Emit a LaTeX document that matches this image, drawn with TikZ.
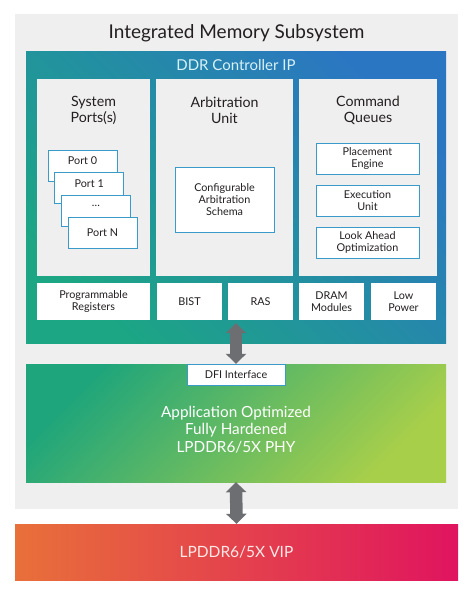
\documentclass[tikz,border=0pt]{standalone}
\usepackage{fontspec}
\setmainfont{Lato}
\usetikzlibrary{arrows.meta,positioning}
\definecolor{boxgray}{HTML}{EFEFEF}
\definecolor{txtdark}{HTML}{231F20}
\definecolor{ddrblue}{HTML}{2B76C2}
\definecolor{ddrgreen}{HTML}{1CA684}
\definecolor{ddrtext}{HTML}{D8F1F7}
\definecolor{edgeblue}{HTML}{3A9BC8}
\definecolor{phygreen}{HTML}{1FA57B}
\definecolor{phylime}{HTML}{A8CF4A}
\definecolor{viporange}{HTML}{E8703A}
\definecolor{vipred}{HTML}{E2283C}
\definecolor{vipmagenta}{HTML}{E0145F}
\definecolor{viptext}{HTML}{FCE9E6}
\definecolor{arrowgray}{HTML}{6D6E71}

\begin{document}
\begin{tikzpicture}[x=1pt,y=-1pt,
        panel/.style={fill=boxgray,inner sep=0pt,minimum height=197pt},
        whitebox/.style={fill=white,inner sep=0pt,minimum height=37pt,align=center,
          text=txtdark,font=\fontsize{10.8}{12.3}\selectfont},
        subbox/.style={fill=white,draw=edgeblue,line width=1pt,inner sep=0pt,align=center,
          text=txtdark,font=\fontsize{10.8}{12.3}\selectfont},
        portlabel/.style={text=txtdark,font=\fontsize{10.8}{12.3}\selectfont},
        ptitle/.style={align=center,text=txtdark,font=\fontsize{14.2}{16}\selectfont},
        bigarrow/.style={draw=arrowgray,line width=12.5pt,
          {Triangle[width=20pt,length=10pt]}-{Triangle[width=20pt,length=10pt]}}]
      \useasboundingbox (0,0) rectangle (474,592);

      % subsystem frame
      \node [fill=boxgray,minimum width=443pt,minimum height=495pt,inner sep=0pt] (ims) at (236.5,261.5) {};
      \node [text=txtdark,font=\fontsize{19}{21}\selectfont] (imstitle) at (236.5,33) {Integrated Memory Subsystem};

      % controller
      \node [top color=ddrblue,bottom color=ddrgreen,shading angle=-45,
             minimum width=420pt,minimum height=292pt,inner sep=0pt] (ddr) at (236,197) {};
      \node [text=ddrtext,font=\fontsize{15}{17}\selectfont] (ddrtitle) at (236,65) {DDR Controller IP};

      \node [panel,minimum width=113pt] (sysp) at (93.5,177.5)  {};
      \node [panel,minimum width=137pt] (arb)  at (224.5,177.5) {};
      \node [panel,minimum width=138pt] (cmdq) at (368,177.5)   {};
      \node [ptitle] (syspt) at ([yshift=-32pt]sysp.north) {System\\Ports(s)};
      \node [ptitle] (arbt)  at ([yshift=-32pt]arb.north)  {Arbitration\\Unit};
      \node [ptitle] (cmdqt) at ([yshift=-32pt]cmdq.north) {Command\\Queues};

      % port stack
      \foreach \n/\t [count=\k from 0] in {p0/Port 0,p1/Port 1,pd/\ldots}{
        \node [subbox,minimum width=69pt,minimum height=31pt] (\n) at (82.5+6.7*\k,166+22.3*\k) {};
        \node [portlabel] at ([yshift=-11pt]\n.north) {\t};
      }
      \node [subbox,minimum width=69pt,minimum height=31pt] (pn) at (102.5,232.5) {Port N};

      \node [subbox,minimum width=99pt,minimum height=65pt] (schema) at (224.5,199.5) {Configurable\\Arbitration\\Schema};

      \node [subbox,minimum width=103pt,minimum height=31pt] (place) at (367.5,158.5) {Placement\\Engine};
      \node [subbox,minimum width=103pt,minimum height=31pt] (exec) [below=10pt of place] {Execution\\Unit};
      \node [subbox,minimum width=103pt,minimum height=31pt] (look) [below=10pt of exec]  {Look Ahead\\Optimization};

      \node [whitebox,minimum width=113pt] (preg) at (93.5,301.5)  {Programmable\\Registers};
      \node [whitebox,minimum width=65pt]  (bist) at (189.5,301.5) {BIST};
      \node [whitebox,minimum width=65pt]  (ras)  at (260.5,301.5) {RAS};
      \node [whitebox,minimum width=65pt]  (dram) at (331.5,301.5) {DRAM\\Modules};
      \node [whitebox,minimum width=65pt]  (lowp) at (403.5,301.5) {Low\\Power};

      % phy
      \node [top color=phygreen,bottom color=phylime,shading angle=45,
             minimum width=420pt,minimum height=118pt,inner sep=0pt] (phy) at (236,423) {};
      \node [align=center,text=white,font=\fontsize{15.3}{17.5}\selectfont] (phytext) at (236,429.5)
            {Application Optimized\\Fully Hardened\\LPDDR6/5X PHY};
      \node [subbox,minimum width=98pt,minimum height=21pt,anchor=north] (dfi) at (phy.north) {DFI Interface};

      % vip
      \node [left color=viporange,middle color=vipred,right color=vipmagenta,
             minimum width=443pt,minimum height=56pt,inner sep=0pt,
             text=viptext,font=\fontsize{15.5}{18}\selectfont] (vip) at (236.5,552) {LPDDR6/5X VIP};

      \draw [bigarrow] ([yshift=20pt]ddr.south) -- (dfi.north);
      \draw [bigarrow] (phy.south) -- (vip.north);
    \end{tikzpicture}
\end{document}
